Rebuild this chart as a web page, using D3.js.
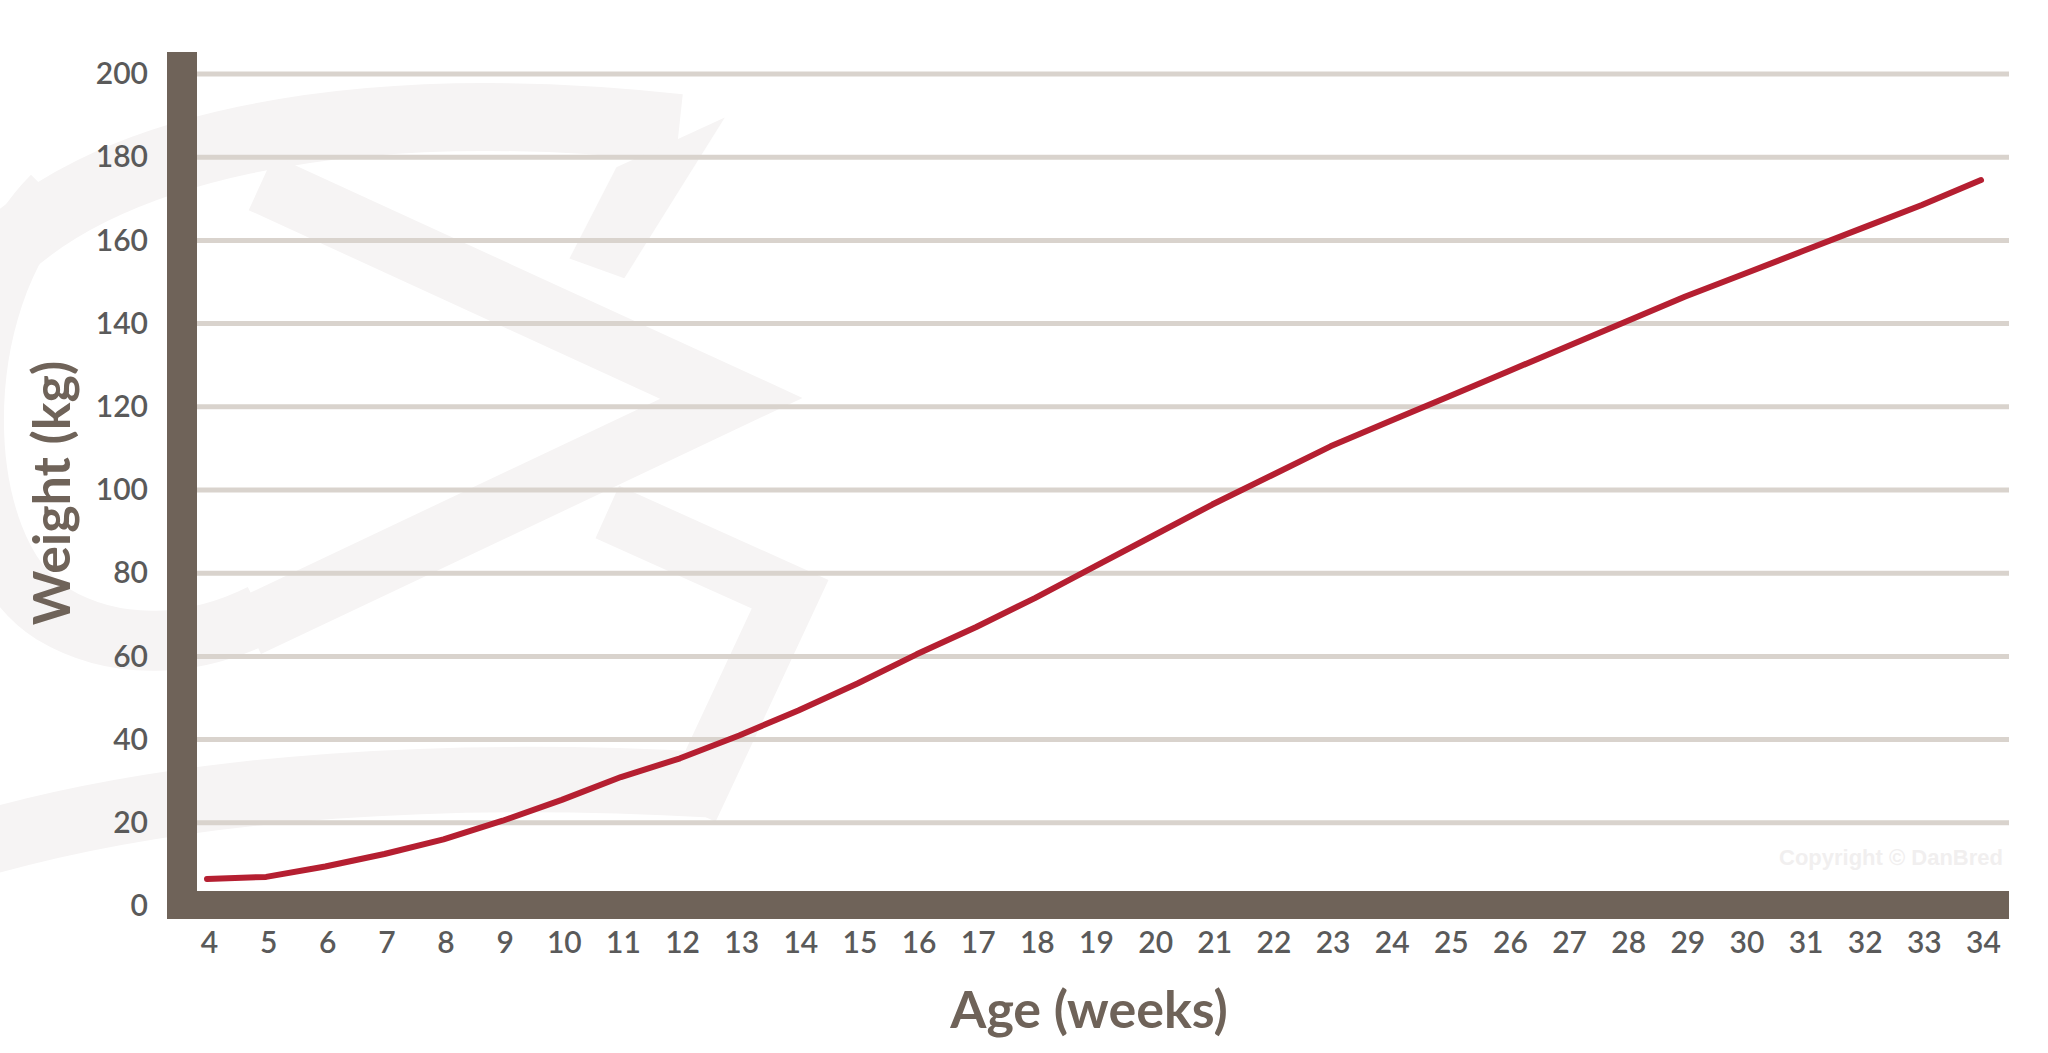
<!DOCTYPE html>
<html>
<head>
<meta charset="utf-8">
<script src="https://cdn.jsdelivr.net/npm/d3@7"></script>
<style>
  body { margin: 0; background: #fff; }
  svg { display: block; }
  .tick text { font-family: Lato, "Open Sans", sans-serif; font-size: 30px; font-weight: 600; fill: #5a5a5a; }
</style>
</head>
<body>
<div id="chart"></div>
<script>
// data
var weeks = [4, 5, 6, 7, 8, 9, 10, 11, 12, 13, 14, 15, 16, 17, 18, 19, 20, 21, 22, 23, 24, 25, 26, 27, 28, 29, 30, 31, 32, 33, 34];
var weight = [6.5, 7, 9.5, 12.5, 16, 20.5, 25.5, 31, 35.5, 41, 47, 53.5, 60.5, 67, 74, 81.5, 89, 96.5, 103.5, 110.5, 116.5, 122.5, 128.5, 134.5, 140.5, 146.5, 152, 157.5, 163, 168.5, 174.5];
var yTicks = [0, 20, 40, 60, 80, 100, 120, 140, 160, 180, 200];

var W = 2048, H = 1053;
var brown = "#6f6359";
var ghost = "#f6f4f4";

var svg = d3.select("#chart").append("svg")
  .attr("width", W).attr("height", H)
  .attr("viewBox", "0 0 " + W + " " + H);

svg.append("rect").attr("width", W).attr("height", H).attr("fill", "#fff");

// faint logo watermark behind the chart
var wm = svg.append("g")
  .attr("transform", "scale(1.306)")
  .attr("fill", "none")
  .attr("stroke", ghost)
  .attr("stroke-linejoin", "miter");
wm.append("path").attr("d", "M-10,205 C70,115 260,70 520,98").attr("stroke-width", 52);
wm.append("path").attr("d", "M555,90 L478,213 L436,198 L472,128 Z").attr("fill", ghost).attr("stroke", "none");
wm.append("path").attr("d", "M200,140 L560,305 L190,480").attr("stroke-width", 46);
wm.append("path").attr("d", "M40,150 C-40,230 -40,420 40,470 C90,500 150,495 200,470").attr("stroke-width", 46);
wm.append("path").attr("d", "M465,392 L605,455 L528,620").attr("stroke-width", 44);
wm.append("path").attr("d", "M-10,645 C150,600 350,590 545,601").attr("stroke-width", 50);

var x = d3.scaleLinear().domain([4, 34]).range([207, 1981]);
var y = d3.scaleLinear().domain([0, 200]).range([906, 74]);

// gridlines
svg.append("g").selectAll("line")
  .data(yTicks.filter(function (d) { return d > 0; }))
  .join("line")
  .attr("x1", 197).attr("x2", 2009)
  .attr("y1", function (d) { return y(d); })
  .attr("y2", function (d) { return y(d); })
  .attr("stroke", "#d9d3cd")
  .attr("stroke-width", 5);

svg.append("text")
  .attr("x", 2003).attr("y", 865)
  .attr("text-anchor", "end")
  .attr("font-family", "'Liberation Sans Narrow', 'Liberation Sans', sans-serif")
  .attr("font-weight", "bold")
  .attr("font-size", 22)
  .attr("fill", "#f1efef")
  .text("Copyright \u00a9 DanBred");

// axes bars
svg.append("rect")
  .attr("x", 167).attr("y", 52)
  .attr("width", 30).attr("height", y(0) + 13 - 52)
  .attr("fill", brown);
svg.append("rect")
  .attr("x", 167).attr("y", y(0) - 15)
  .attr("width", 2009 - 167).attr("height", 28)
  .attr("fill", brown);

// tick labels
var yAxis = svg.append("g")
  .attr("transform", "translate(167,0)")
  .call(d3.axisLeft(y).tickValues(yTicks).tickSize(0).tickPadding(19));
yAxis.select(".domain").remove();

var xAxis = svg.append("g")
  .attr("transform", "translate(2," + (y(0) + 13) + ")")
  .call(d3.axisBottom(x).tickValues(weeks).tickSize(0).tickPadding(13));
xAxis.select(".domain").remove();

// the growth curve
var line = d3.line()
  .x(function (d, i) { return x(weeks[i]); })
  .y(function (d) { return y(d); });

svg.append("path")
  .datum(weight)
  .attr("d", line)
  .attr("fill", "none")
  .attr("stroke", "#b51f31")
  .attr("stroke-width", 6)
  .attr("stroke-linecap", "round")
  .attr("stroke-linejoin", "round");

// axis titles
svg.append("text")
  .attr("x", 1089).attr("y", 1028)
  .attr("text-anchor", "middle")
  .attr("font-family", "Lato, sans-serif")
  .attr("font-weight", "bold")
  .attr("font-size", 52)
  .attr("fill", brown)
  .text("Age (weeks)");

svg.append("text")
  .attr("transform", "translate(70,493) rotate(-90)")
  .attr("text-anchor", "middle")
  .attr("font-family", "Lato, sans-serif")
  .attr("font-weight", "bold")
  .attr("font-size", 52)
  .attr("fill", brown)
  .text("Weight (kg)");
</script>
</body>
</html>
